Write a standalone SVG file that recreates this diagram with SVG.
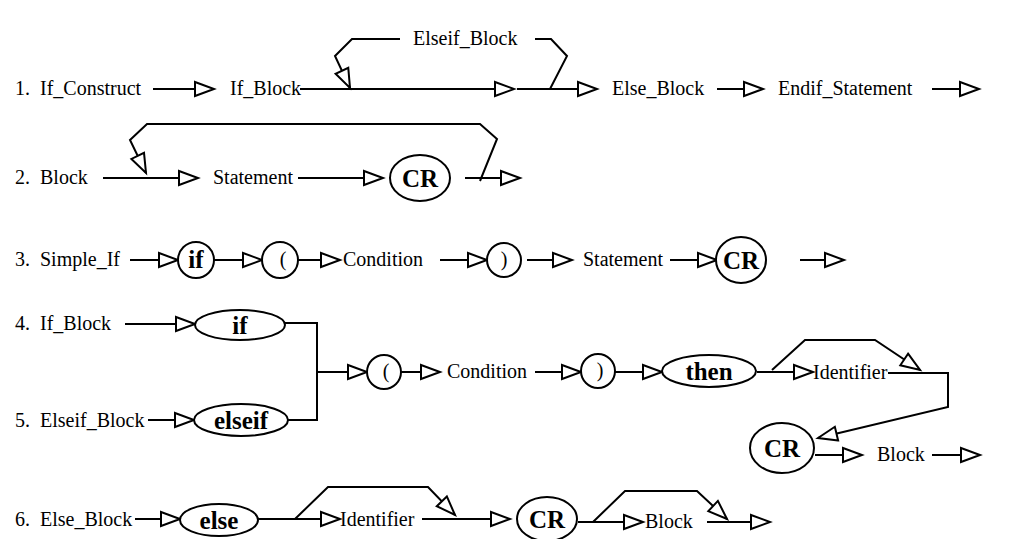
<svg xmlns="http://www.w3.org/2000/svg" width="1014" height="539" viewBox="0 0 1014 539">
<style>
.t{font-family:"Liberation Serif","DejaVu Serif",serif;font-size:20px;fill:#000}
.b{font-family:"Liberation Serif","DejaVu Serif",serif;font-size:25px;font-weight:bold;fill:#000;text-anchor:middle}
.p{font-family:"Liberation Serif","DejaVu Serif",serif;font-size:20px;fill:#000;text-anchor:middle}
.n{fill:#fff;stroke:#000;stroke-width:2}
.c path{fill:none;stroke:#000;stroke-width:2;stroke-linejoin:miter}
.a{marker-end:url(#arr)}
</style>
<defs>
<marker id="arr" markerUnits="userSpaceOnUse" viewBox="-2 -9 24 18" markerWidth="24" markerHeight="18" refX="19" refY="0" orient="auto" overflow="visible">
<path d="M0,-7 L19,0 L0,7 Z" fill="#fff" stroke="#000" stroke-width="2"/>
</marker>
</defs>
<rect width="1014" height="539" fill="#fff"/>
<g id="connectors" class="c">
<path class="a" d="M153,89 H214"/>
<path class="a" d="M300,89 H514"/>
<path class="a" d="M517,89 H597"/>
<path class="a" d="M717,89 H763"/>
<path class="a" d="M932,89 H979"/>
<path class="a" d="M400,39 H352 L335,56 L350,88"/>
<path d="M535,39 H551 L567,56 L550,89"/>
<path class="a" d="M103,178 H198"/>
<path class="a" d="M298,178 H383"/>
<path class="a" d="M465,178 H520"/>
<path class="a" d="M480,181 L497,139 L480,124 H147 L130,140 L146,173"/>
<path class="a" d="M130,260 H178"/>
<path class="a" d="M214,260 H262"/>
<path class="a" d="M298,260 H340"/>
<path class="a" d="M440,260 H487"/>
<path class="a" d="M527,260 H572"/>
<path class="a" d="M670,260 H717"/>
<path class="a" d="M800,260 H844"/>
<path class="a" d="M125,324 H195"/>
<path class="a" d="M148,420 H194"/>
<path d="M285,323 H317 V420 H288"/>
<path class="a" d="M317,372 H367"/>
<path class="a" d="M401,372 H440"/>
<path class="a" d="M535,372 H581"/>
<path class="a" d="M615,372 H662"/>
<path class="a" d="M757,372 H813"/>
<path class="a" d="M888,373 H948 V407 L818,438"/>
<path class="a" d="M772,370 L805,340 H875 L920,370"/>
<path class="a" d="M815,455 H862"/>
<path class="a" d="M932,455 H980"/>
<path class="a" d="M135,519 H180"/>
<path class="a" d="M258,519 H340"/>
<path class="a" d="M295,519 L328,487 H428 L455,515"/>
<path class="a" d="M422,519 H510"/>
<path class="a" d="M578,522 H643"/>
<path class="a" d="M593,522 L625,491 H697 L727,519"/>
<path class="a" d="M707,522 H770"/>
</g>
<g id="row1">
<text class="t" y="95"><tspan x="15">1.</tspan><tspan x="40">If_Construct</tspan></text>
<g id="r1_ifblock"><text class="t" x="230" y="95">If_Block</text></g>
<g id="r1_elseifblock"><text class="t" x="413" y="45">Elseif_Block</text></g>
<g id="r1_elseblock"><text class="t" x="612" y="95">Else_Block</text></g>
<g id="r1_endif"><text class="t" x="778" y="95">Endif_Statement</text></g>
</g>
<g id="row2">
<text class="t" y="184"><tspan x="15">2.</tspan><tspan x="40">Block</tspan></text>
<g id="r2_statement"><text class="t" x="213" y="184">Statement</text></g>
<g id="r2_cr"><ellipse class="n" cx="420" cy="178" rx="30" ry="23"/><text class="b" x="420" y="187">CR</text></g>
</g>
<g id="row3">
<text class="t" y="266"><tspan x="15">3.</tspan><tspan x="40">Simple_If</tspan></text>
<g id="r3_if"><circle class="n" cx="196" cy="260" r="18"/><text class="b" x="196" y="268">if</text></g>
<g id="r3_lp"><circle class="n" cx="280" cy="260" r="18"/><text class="p" x="283" y="266">(</text></g>
<g id="r3_condition"><text class="t" x="343" y="266">Condition</text></g>
<g id="r3_rp"><circle class="n" cx="504" cy="260" r="17"/><text class="p" x="504" y="266">)</text></g>
<g id="r3_statement"><text class="t" x="583" y="266">Statement</text></g>
<g id="r3_cr"><ellipse class="n" cx="741" cy="260" rx="25" ry="23"/><text class="b" x="741" y="269">CR</text></g>
</g>
<g id="row4">
<text class="t" y="330"><tspan x="15">4.</tspan><tspan x="40">If_Block</tspan></text>
<g id="r4_if"><ellipse class="n" cx="240" cy="325" rx="45" ry="15"/><text class="b" x="240" y="334">if</text></g>
<g id="r4_lp"><circle class="n" cx="384" cy="372" r="17"/><text class="p" x="386" y="378">(</text></g>
<g id="r4_condition"><text class="t" x="447" y="378">Condition</text></g>
<g id="r4_rp"><circle class="n" cx="598" cy="371" r="17"/><text class="p" x="600" y="377">)</text></g>
<g id="r4_then"><ellipse class="n" cx="709" cy="371" rx="47" ry="16"/><text class="b" x="709" y="380">then</text></g>
<g id="r4_identifier"><text class="t" x="813" y="379">Identifier</text></g>
<g id="r4_cr"><ellipse class="n" cx="782" cy="448" rx="32" ry="25"/><text class="b" x="782" y="457">CR</text></g>
<g id="r4_block"><text class="t" x="877" y="461">Block</text></g>
</g>
<g id="row5">
<text class="t" y="427"><tspan x="15">5.</tspan><tspan x="40">Elseif_Block</tspan></text>
<g id="r5_elseif"><ellipse class="n" cx="241" cy="420" rx="47" ry="16"/><text class="b" x="241" y="429">elseif</text></g>
</g>
<g id="row6">
<text class="t" y="526"><tspan x="15">6.</tspan><tspan x="40">Else_Block</tspan></text>
<g id="r6_else"><ellipse class="n" cx="219" cy="520" rx="39" ry="16"/><text class="b" x="219" y="529">else</text></g>
<g id="r6_identifier"><text class="t" x="340" y="526">Identifier</text></g>
<g id="r6_cr"><ellipse class="n" cx="547" cy="519" rx="30" ry="22"/><text class="b" x="547" y="528">CR</text></g>
<g id="r6_block"><text class="t" x="645" y="528">Block</text></g>
</g>
</svg>
